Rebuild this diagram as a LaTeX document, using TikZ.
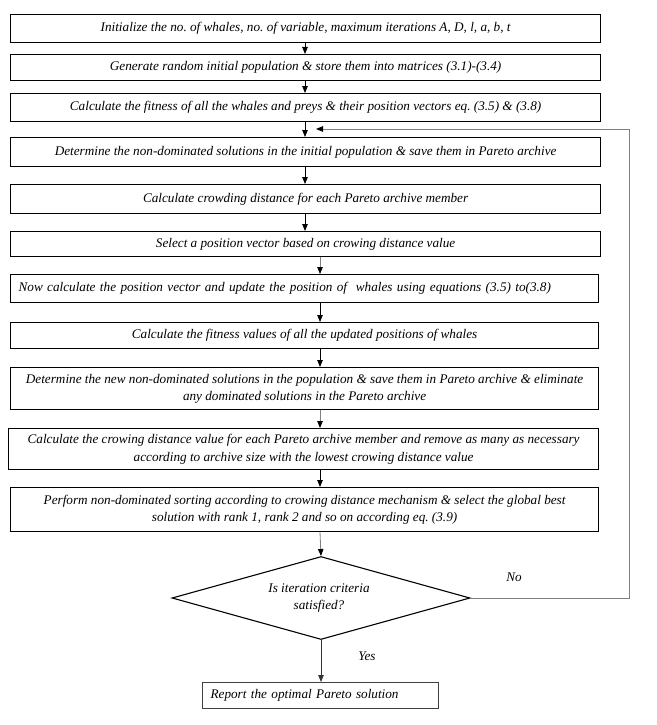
\documentclass[tikz,border=0pt]{standalone}
\usepackage{fontspec}
\setmainfont{Liberation Serif}
\usetikzlibrary{shapes.geometric,arrows.meta}
\begin{document}
\frenchspacing
\begin{tikzpicture}[x=1pt,y=-1pt,
  font=\fontsize{13.2}{17.5}\selectfont\itshape,
  stepbox/.style={draw=black,line width=1.2pt,rectangle,inner sep=0pt,anchor=north west,align=center},
  arr/.style={draw=black,line width=0.8pt,-{Triangle[length=7pt,width=5.5pt]}},
  garr/.style={draw=gray,line width=0.8pt,-{Triangle[length=7pt,width=5.5pt,fill=black,color=black]}},
  lbl/.style={inner sep=0pt}]
\useasboundingbox (0,0) rectangle (656,725);
\fill[white] (0,0) rectangle (656,725);
\newcommand{\bx}[6]{\node[stepbox,minimum width={#4-#2},minimum height={#5-#3}] (#1) at (#2,#3) {#6};}
\bx{B1}{10}{14}{600}{42}{Initialize the no. of whales, no. of variable, maximum iterations A, D, l, a, b, t}
\bx{B2}{10}{54}{600}{80}{Generate random initial population \& store them into matrices (3.1)-(3.4)}
\bx{B3}{10}{93}{600}{121}{Calculate the fitness of all the whales and preys \& their position vectors eq. (3.5) \& (3.8)}
\bx{B4}{10}{137}{600}{166}{Determine the non-dominated solutions in the initial population \& save them in Pareto archive}
\bx{B5}{10}{184}{600}{213}{Calculate crowding distance for each Pareto archive member}
\bx{B6}{10}{231}{600}{256}{Select a position vector based on crowing distance value}
\node[stepbox,minimum width=588,minimum height=28,align=left,text width=572] (B7) at (10,274) {Now calculate the position vector and update the position of\ \ whales using equations (3.5) to(3.8)};
\bx{B8}{10}{322}{598}{348}{Calculate the fitness values of all the updated positions of whales}
\bx{B9}{10}{367}{598}{409}{Determine the new non-dominated solutions in the population \& save them in Pareto archive \& eliminate\\any dominated solutions in the Pareto archive}
\bx{B10}{8}{428}{598}{469}{Calculate the crowing distance value for each Pareto archive member and remove as many as necessary\\according to archive size with the lowest crowing distance value}
\bx{B11}{10}{487}{598}{531}{Perform non-dominated sorting according to crowing distance mechanism \& select the global best\\solution with rank 1, rank 2 and so on according eq. (3.9)}
\node[diamond,draw=black,line width=1.1pt,minimum width=298,minimum height=83,inner sep=0pt] (D) at (321,598) {};
\node[lbl,align=center] (Dt) at (319,598) {Is iteration criteria\\satisfied?};
\node[stepbox,draw=black!75,minimum width=236,minimum height=26,align=left,text width=220] (B12) at (202,682) {Report the optimal Pareto solution};
\coordinate (cA) at (305,0);
\coordinate (cB) at (320,0);
\coordinate (loopx) at (629,0);
\coordinate (tip) at (316,129);
\draw[arr] (B1.south -| cA) -- (B2.north -| cA);
\draw[arr] (B2.south -| cA) -- (B3.north -| cA);
\draw[arr] (B3.south -| cA) -- (B4.north -| cA);
\draw[arr] (B4.south -| cA) -- (B5.north -| cA);
\draw[arr] (B5.south -| cA) -- (B6.north -| cA);
\draw[garr] (B6.south -| cB) -- (B7.north -| cB);
\draw[arr] (B7.south -| cB) -- (B8.north -| cB);
\draw[arr] (B8.south -| cB) -- (B9.north -| cB);
\draw[garr] (B9.south -| cB) -- (B10.north -| cB);
\draw[arr] (B10.south -| cB) -- (B11.north -| cB);
\draw[garr] (B11.south -| cB) -- (D.north);
\draw[arr,draw=black!80] (D.south) -- (B12.north -| D.south);
\draw[garr] (D.east) -| (loopx |- tip) -- (tip);
\node[lbl] (no) at (514,577) {No};
\node[lbl] (yes) at (367,656) {Yes};
\end{tikzpicture}
\end{document}
